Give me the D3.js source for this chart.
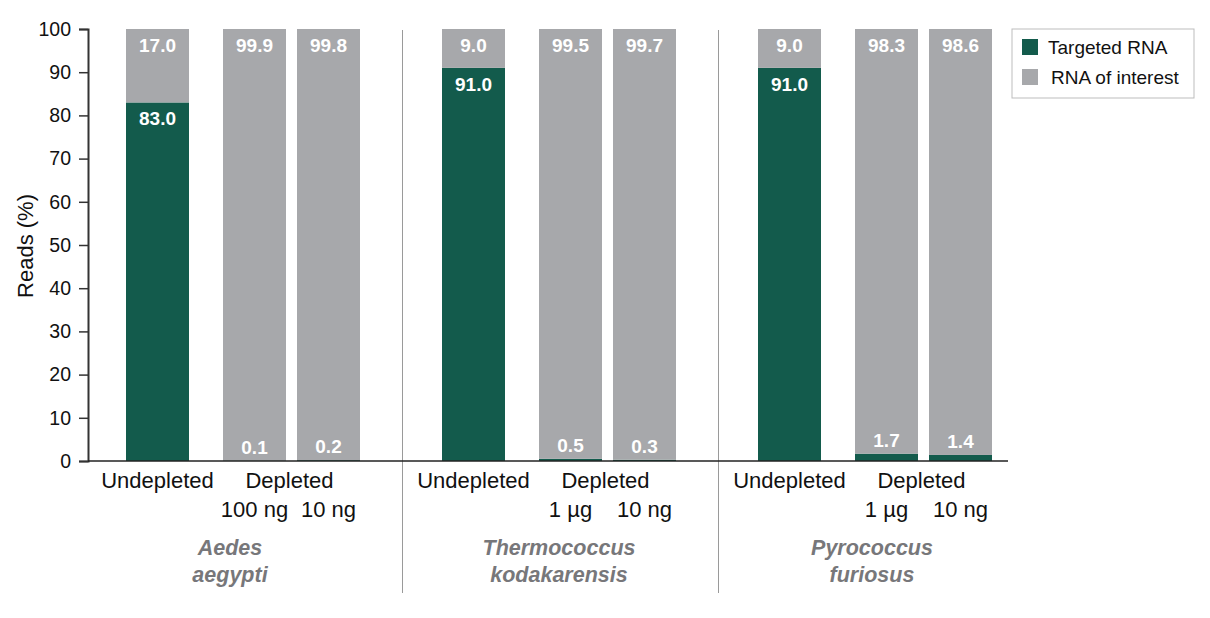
<!DOCTYPE html>
<html>
<head>
<meta charset="utf-8">
<script src="https://cdn.jsdelivr.net/npm/d3@7"></script>
<style>
  body { margin: 0; background: #fff; }
  text { font-family: "Liberation Sans", Arial, Helvetica, sans-serif; }
</style>
</head>
<body>
<div id="chart"></div>
<script>
// data
const species = ["Aedes aegypti", "Thermococcus kodakarensis", "Pyrococcus furiosus"];
const speciesLines = [["Aedes", "aegypti"], ["Thermococcus", "kodakarensis"], ["Pyrococcus", "furiosus"]];
const samples = ["Undepleted", "Depleted A", "Depleted B"];
const amounts = [["100 ng", "10 ng"], ["1 µg", "10 ng"], ["1 µg", "10 ng"]];
const targeted = [[83.0, 0.1, 0.2], [91.0, 0.5, 0.3], [91.0, 1.7, 1.4]];
const interest = [[17.0, 99.9, 99.8], [9.0, 99.5, 99.7], [9.0, 98.3, 98.6]];
const seriesKeys = ["Targeted RNA", "RNA of interest"];
const yTicks = [0, 10, 20, 30, 40, 50, 60, 70, 80, 90, 100];

const colors = {"Targeted RNA": "#135b4c", "RNA of interest": "#a7a8ab"};
// species names are not quite centred in the original
const speciesDx = [-13, 0, -3];

const W = 1210, H = 618;
const svg = d3.select("#chart").append("svg")
    .attr("width", W).attr("height", H);

// one row per bar
const rows = [];
species.forEach((sp, i) => {
    samples.forEach((s, j) => {
        rows.push({species: sp, sample: s, gi: i, si: j,
            "Targeted RNA": targeted[i][j], "RNA of interest": interest[i][j]});
    });
});

const y = d3.scaleLinear().domain([0, 100]).range([461, 29]);
const xGroup = d3.scaleBand().domain(species).range([86, 1034]);
const xSample = d3.scaleOrdinal().domain(samples).range([40, 137, 211]);
const barW = 63;
const xBar = d => xGroup(d.species) + xSample(d.sample);

const stacked = d3.stack().keys(seriesKeys)(rows);

// group separators
svg.selectAll(".sep")
    .data(species.slice(1))
    .join("line")
    .attr("class", "sep")
    .attr("x1", d => xGroup(d) + 0.5)
    .attr("x2", d => xGroup(d) + 0.5)
    .attr("y1", 30)
    .attr("y2", 593)
    .attr("stroke", "#9a9a9a")
    .attr("stroke-width", 1);

// bars
svg.selectAll(".series")
    .data(stacked)
    .join("g")
    .attr("class", "series")
    .attr("fill", d => colors[d.key])
    .selectAll("rect")
    .data(d => d)
    .join("rect")
    .attr("x", d => xBar(d.data))
    .attr("width", barW)
    .attr("y", d => y(d[1]))
    .attr("height", d => y(d[0]) - y(d[1]));

// value labels
const lab = svg.append("g")
    .attr("fill", "#fff")
    .attr("font-weight", "bold")
    .attr("font-size", 19)
    .attr("text-anchor", "middle");

lab.selectAll(".gl")
    .data(rows)
    .join("text")
    .attr("x", d => xBar(d) + barW / 2)
    .attr("y", d => d["Targeted RNA"] >= 5
        ? y(d["Targeted RNA"]) + 23
        : y(d["Targeted RNA"]) - 7)
    .text(d => d["Targeted RNA"].toFixed(1));

lab.selectAll(".rl")
    .data(rows)
    .join("text")
    .attr("x", d => xBar(d) + barW / 2)
    .attr("y", y(100) + 23)
    .text(d => d["RNA of interest"].toFixed(1));

// y axis
const yAxis = svg.append("g")
    .attr("transform", "translate(88,0)")
    .call(d3.axisLeft(y).tickValues(yTicks).tickSize(9).tickPadding(8));
yAxis.select(".domain").attr("stroke", "#333").attr("stroke-width", 2);
yAxis.selectAll(".tick line").attr("stroke", "#333").attr("stroke-width", 1.5);
yAxis.selectAll(".tick text")
    .attr("font-size", 19.5)
    .attr("fill", "#111")
    .attr("font-family", "'Liberation Sans', Arial, sans-serif");

// baseline
svg.append("line")
    .attr("x1", 88).attr("x2", 1008)
    .attr("y1", y(0)).attr("y2", y(0))
    .attr("stroke", "#222").attr("stroke-width", 1.5);

svg.append("text")
    .attr("transform", "translate(33," + (y(50) + 1) + ") rotate(-90)")
    .attr("text-anchor", "middle")
    .attr("font-size", 22)
    .attr("fill", "#111")
    .text("Reads (%)");

// x labels
const xl = svg.append("g")
    .attr("font-size", 22)
    .attr("fill", "#111")
    .attr("text-anchor", "middle");

species.forEach((sp, i) => {
    const g0 = xGroup(sp);
    const c0 = g0 + xSample(samples[0]) + barW / 2;
    const c1 = g0 + xSample(samples[1]) + barW / 2;
    const c2 = g0 + xSample(samples[2]) + barW / 2;
    xl.append("text").attr("x", c0).attr("y", 488).text("Undepleted");
    xl.append("text").attr("x", (c1 + c2) / 2 - 2).attr("y", 488).text("Depleted");
    xl.append("text").attr("x", c1).attr("y", 517).text(amounts[i][0]);
    xl.append("text").attr("x", c2).attr("y", 517).text(amounts[i][1]);

    const sp_t = svg.append("text")
        .attr("text-anchor", "middle")
        .attr("font-size", 21.5)
        .attr("font-weight", "bold")
        .attr("font-style", "italic")
        .attr("fill", "#77777a");
    speciesLines[i].forEach((ln, k) => {
        sp_t.append("tspan")
            .attr("x", (c0 + c2) / 2 + speciesDx[i])
            .attr("y", 555 + k * 27)
            .text(ln);
    });
});

// legend
const leg = svg.append("g").attr("transform", "translate(1012,29)");
leg.append("rect")
    .attr("width", 182).attr("height", 69)
    .attr("fill", "#fff")
    .attr("stroke", "#bdbdbd")
    .attr("stroke-width", 1);
seriesKeys.forEach((k, i) => {
    leg.append("rect")
        .attr("x", 10).attr("y", 10 + i * 30)
        .attr("width", 16).attr("height", 16)
        .attr("fill", colors[k]);
    leg.append("text")
        .attr("x", 36 + i * 3).attr("y", 25 + i * 30)
        .attr("font-size", 19)
        .attr("fill", "#111")
        .text(k);
});
</script>
</body>
</html>
